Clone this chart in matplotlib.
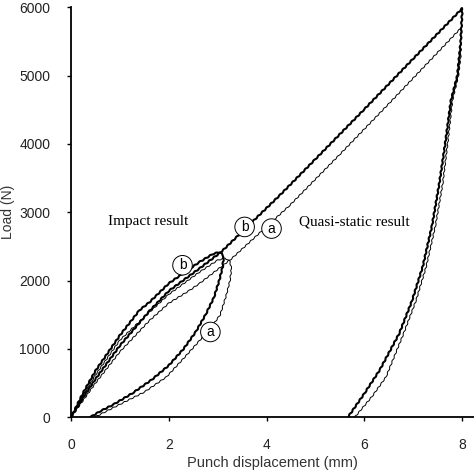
import numpy as np
import matplotlib.pyplot as plt

# quasi-static result, curve b (thick) - loading then unloading
qs_b_x = [0, 0.25, 0.5, 1.0, 1.61, 2.0, 2.63, 3.07, 4.27, 5.0, 6.0, 7.0, 8.0,
          7.97, 7.9, 7.77, 7.65, 7.53, 7.38, 7.19, 6.97, 6.71, 6.31, 6.0, 5.66]
qs_b_y = [0, 290, 560, 1050, 1560, 1850, 2180, 2420, 3250, 3780, 4510, 5250, 5985,
          5500, 5000, 4640, 4000, 3420, 2800, 2200, 1700, 1225, 690, 350, 0]

# quasi-static result, curve a (thin)
qs_a_x = [0, 0.25, 0.5, 1.0, 1.61, 2.0, 2.43, 2.63, 3.28, 4.47, 5.5, 6.5, 7.97,
          7.97, 7.92, 7.8, 7.7, 7.6, 7.45, 7.26, 7.05, 6.8, 6.44, 6.15, 5.8]
qs_a_y = [0, 250, 500, 960, 1420, 1670, 1860, 1960, 2320, 3100, 3850, 4590, 5695,
          5300, 5000, 4640, 4000, 3420, 2800, 2200, 1700, 1225, 590, 300, 0]

# impact result, curve b (thick)
im_b_x = [0, 0.25, 0.5, 1.0, 1.4, 1.61, 2.0, 2.63, 2.9, 3.05, 3.12, 3.1, 3.03,
          2.92, 2.75, 2.55, 2.3, 2.0, 1.65, 1.25, 0.85, 0.6, 0.39]
im_b_y = [0, 360, 680, 1200, 1567, 1688, 1960, 2274, 2390, 2420, 2350, 2200, 2000,
          1750, 1500, 1250, 1000, 760, 550, 350, 180, 90, 0]

# impact result, curve a (thin)
im_a_x = [0, 0.25, 0.5, 1.0, 1.61, 2.0, 2.63, 3.0, 3.15, 3.25, 3.28, 3.25, 3.18,
          3.05, 2.85, 2.6, 2.3, 1.95, 1.5, 1.0, 0.7, 0.48]
im_a_y = [0, 320, 620, 1130, 1542, 1800, 2127, 2300, 2330, 2280, 2170, 2000, 1800,
          1500, 1300, 1100, 860, 590, 370, 190, 80, 0]

x_ticks = [0, 2, 4, 6, 8]
y_ticks = [0, 1000, 2000, 3000, 4000, 5000, 6000]

fig = plt.figure(figsize=(4.74, 4.74), dpi=100)
ax = fig.add_axes([0.1498, 0.1196, 0.8502, 0.865])

for xs, ys, lw in [(qs_b_x, qs_b_y, 1.5), (qs_a_x, qs_a_y, 0.7),
                   (im_b_x, im_b_y, 1.5), (im_a_x, im_a_y, 0.7)]:
    ln, = ax.plot(xs, ys, color='black', lw=lw, solid_joinstyle='round')
    ln.set_sketch_params(scale=0.5, length=6, randomness=1)

ax.set_xlim(0, 8.24)
ax.set_ylim(0, 6000)
ax.set_xticks(x_ticks)
ax.set_yticks(y_ticks)
ax.spines['top'].set_visible(False)
ax.spines['right'].set_visible(False)
ax.spines['left'].set_linewidth(1.3)
ax.spines['bottom'].set_linewidth(1.3)
ax.tick_params(direction='out', length=3, width=1, labelsize=10,
               labelcolor='#222222', pad=12)
for lab in ax.get_xticklabels() + ax.get_yticklabels():
    lab.set_family('Liberation Sans')

ax.set_xlabel('Punch displacement (mm)', fontsize=10.5, family='Liberation Sans',
              color='#333333', labelpad=3)
ax.set_ylabel('Load (N)', fontsize=10, family='Liberation Sans',
              color='#333333')
ax.yaxis.set_label_coords(-0.138, 0.5)

ax.text(1.58, 2860, 'Impact result', family='Liberation Serif', fontsize=11,
        ha='center', va='center')
ax.text(5.8, 2860, 'Quasi-static result', family='Liberation Serif', fontsize=11,
        ha='center', va='center')

circ = dict(boxstyle='circle,pad=0.2', fc='white', ec='black', lw=0.7)
for tx, ty, s in [(3.55, 2786, 'b'), (4.10, 2762, 'a'),
                  (2.28, 2225, 'b'), (2.85, 1249, 'a')]:
    ax.text(tx, ty, s, family='Liberation Sans', fontsize=10,
            ha='center', va='center', bbox=circ)

fig.savefig('out.png', dpi=100)
